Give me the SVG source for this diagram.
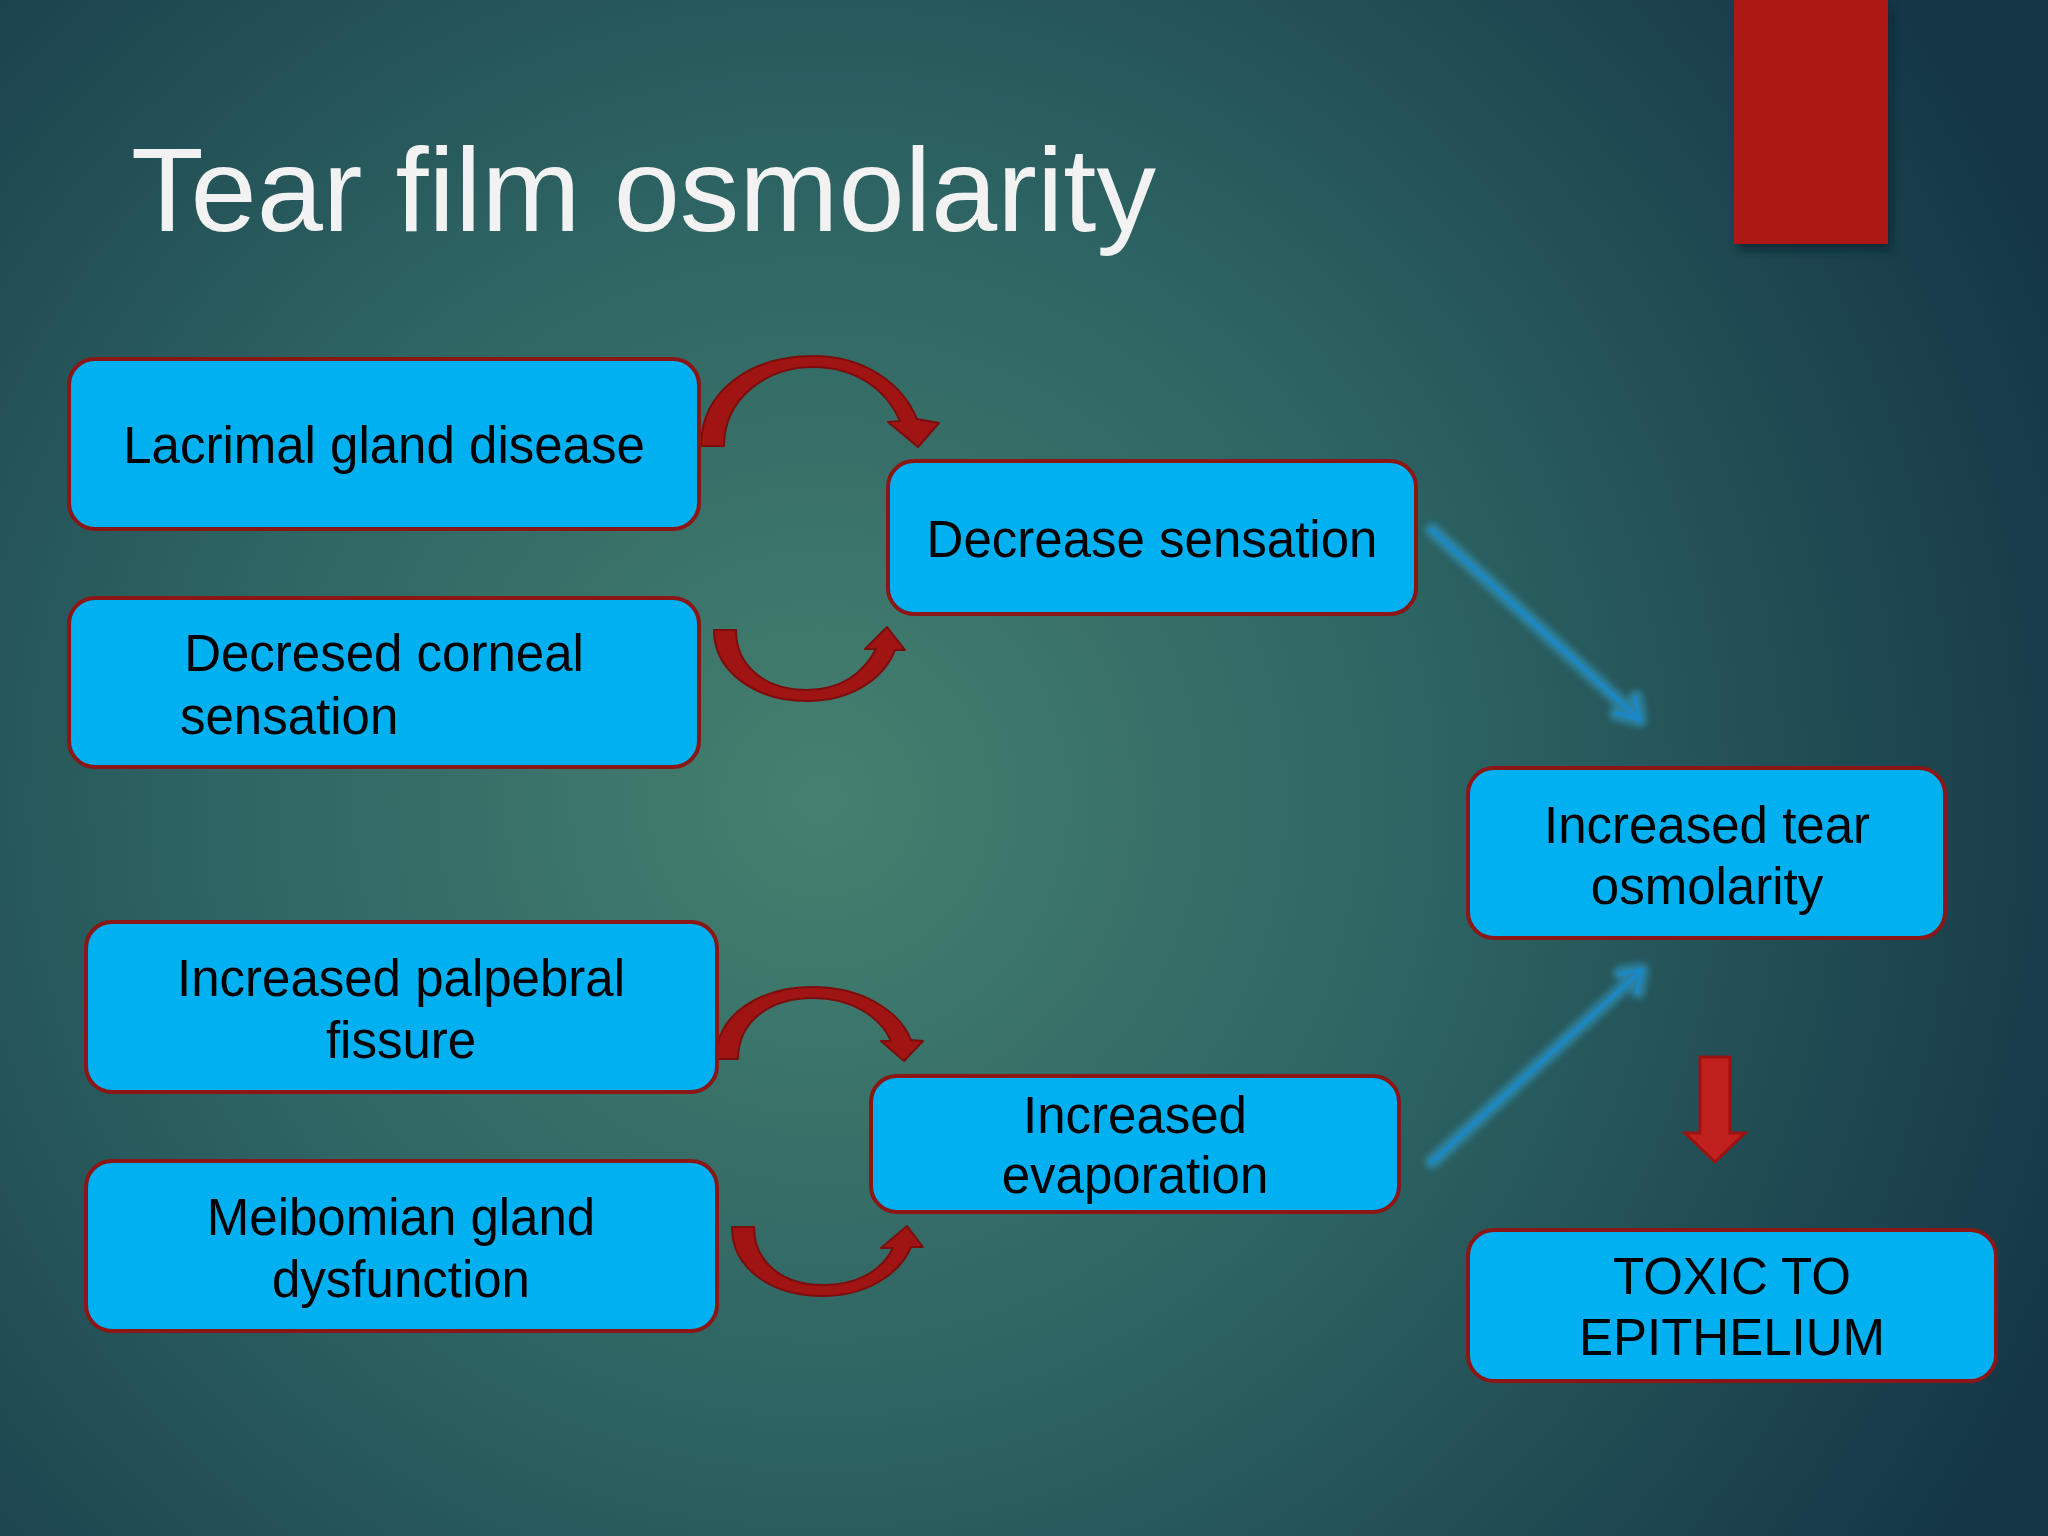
<svg xmlns="http://www.w3.org/2000/svg" width="2048" height="1536" viewBox="0 0 2048 1536">
<defs>
<radialGradient id="bg" gradientUnits="userSpaceOnUse" cx="820" cy="800" r="1350">
<stop offset="0" stop-color="#45806f"/>
<stop offset="0.45" stop-color="#2e6463"/>
<stop offset="1" stop-color="#143646"/>
</radialGradient>
<filter id="blur" x="-20%" y="-20%" width="140%" height="140%"><feGaussianBlur stdDeviation="4"/></filter>
<filter id="glow" x="-20%" y="-20%" width="140%" height="140%"><feGaussianBlur stdDeviation="3"/></filter>
<style>
.box{fill:#00b0f0;stroke:#8a1616;stroke-width:4}
.t{font-family:"Liberation Sans",Arial,sans-serif;font-size:51px;fill:#000;text-anchor:middle}
.curve{fill:#a01414;stroke:#7c0d0d;stroke-width:2;stroke-linejoin:round}
.bglow{fill:none;stroke:#2fa6dc;stroke-width:14;stroke-linecap:round;stroke-linejoin:round;opacity:0.55}
.bline{fill:none;stroke:#1b87c4;stroke-width:4;stroke-linecap:round;stroke-linejoin:round}
</style>
</defs>
<rect width="2048" height="1536" fill="url(#bg)"/>
<rect x="1738" y="6" width="154" height="244" fill="#0d2a36" filter="url(#blur)"/>
<rect x="1734" y="0" width="154" height="244" fill="#ad1815"/>
<text x="131" y="231" font-family="Liberation Sans,Arial,sans-serif" font-size="119" fill="#f2f2f2">Tear film osmolarity</text>

<g id="connectors">
<path class="curve" d="M 701 446 C 701 390 752 356 813 356 C 864 356 902 383 917 419 L 939 423 L 918 447 L 888 422 L 900 421 C 886 389 855 367 813 367 C 768 367 724 397 724 446 Z"/>
<path class="curve" d="M 714 630 C 714 673 757 701 807 701 C 851 701 884 679 895 650 L 905 650 L 887 627 L 865 649 L 876 649 C 863 674 840 690 807 690 C 766 690 736 667 736 630 Z"/>
<path class="curve" d="M 716 1059 C 716 1014 760 987 813 987 C 861 987 899 1010 911 1040 L 923 1041 L 904 1061 L 881 1041 L 891 1041 C 880 1016 851 998 813 998 C 769 998 738 1022 738 1059 Z"/>
<path class="curve" d="M 732 1227 C 732 1269 772 1296 823 1296 C 866 1296 899 1275 911 1247 L 923 1247 L 907 1226 L 881 1248 L 893 1248 C 882 1271 857 1285 823 1285 C 781 1285 754 1261 754 1227 Z"/>
<g filter="url(#glow)">
<path class="bglow" d="M 1432 530 L 1640 720 M 1640 720 L 1616 714 M 1640 720 L 1636 697"/>
<path class="bglow" d="M 1432 1162 L 1642 970 M 1642 970 L 1620 973 M 1642 970 L 1638 992"/>
</g>
<path class="bline" d="M 1432 530 L 1640 720 M 1640 720 L 1618 713 M 1640 720 L 1635 698"/>
<path class="bline" d="M 1432 1162 L 1642 970 M 1642 970 L 1620 974 M 1642 970 L 1637 992"/>
<path d="M 1700 1057 L 1730 1057 L 1730 1133 L 1745 1133 L 1715 1162 L 1685 1133 L 1700 1133 Z" fill="#c0201e" stroke="#9c1212" stroke-width="3" stroke-linejoin="miter"/>
</g>

<g id="n1"><rect class="box" x="69" y="359" width="630" height="170" rx="26"/><text class="t" x="384" y="463">Lacrimal gland disease</text></g>
<g id="n2"><rect class="box" x="69" y="598" width="630" height="169" rx="26"/><text class="t" x="384" y="671">Decresed corneal</text><text class="t" x="180" y="734" style="text-anchor:start">sensation</text></g>
<g id="n3"><rect class="box" x="888" y="461" width="528" height="153" rx="26"/><text class="t" x="1152" y="557">Decrease sensation</text></g>
<g id="n4"><rect class="box" x="86" y="922" width="631" height="170" rx="26"/><text class="t" x="401" y="996">Increased palpebral</text><text class="t" x="401" y="1058">fissure</text></g>
<g id="n5"><rect class="box" x="86" y="1161" width="631" height="170" rx="26"/><text class="t" x="401" y="1235">Meibomian gland</text><text class="t" x="401" y="1297">dysfunction</text></g>
<g id="n6"><rect class="box" x="871" y="1076" width="528" height="136" rx="26"/><text class="t" x="1135" y="1133">Increased</text><text class="t" x="1135" y="1193">evaporation</text></g>
<g id="n7"><rect class="box" x="1468" y="768" width="477" height="170" rx="26"/><text class="t" x="1707" y="843">Increased tear</text><text class="t" x="1707" y="904">osmolarity</text></g>
<g id="n8"><rect class="box" x="1468" y="1230" width="528" height="151" rx="26"/><text class="t" x="1732" y="1294">TOXIC TO</text><text class="t" x="1732" y="1355">EPITHELIUM</text></g>
</svg>
